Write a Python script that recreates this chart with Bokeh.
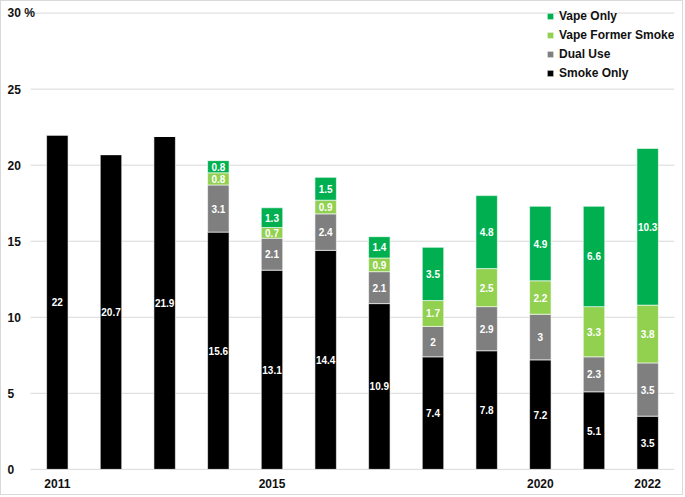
from bokeh.plotting import figure
from bokeh.models import ColumnDataSource, FixedTicker, Legend, LegendItem
from bokeh.core.properties import value
from bokeh.embed import file_html
from bokeh.resources import INLINE

years = [2011, 2012, 2013, 2014, 2015, 2016, 2017, 2018, 2019, 2020, 2021, 2022]
smoke_only = [22, 20.7, 21.9, 15.6, 13.1, 14.4, 10.9, 7.4, 7.8, 7.2, 5.1, 3.5]
dual_use = [0, 0, 0, 3.1, 2.1, 2.4, 2.1, 2.0, 2.9, 3.0, 2.3, 3.5]
vape_former = [0, 0, 0, 0.8, 0.7, 0.9, 0.9, 1.7, 2.5, 2.2, 3.3, 3.8]
vape_only = [0, 0, 0, 0.8, 1.3, 1.5, 1.4, 3.5, 4.8, 4.9, 6.6, 10.3]
x_ticks = [2011, 2015, 2020, 2022]
y_ticks = [0, 5, 10, 15, 20, 25, 30]
y_tick_labels = ["0", "5", "10", "15", "20", "25", "30 %"]

series = ["smoke_only", "dual_use", "vape_former", "vape_only"]
names = ["Smoke Only", "Dual Use", "Vape Former Smoke", "Vape Only"]
colors = ["#000000", "#7f7f7f", "#92d050", "#00b050"]

x_lo = years[0] - 0.5
x_hi = years[-1] + 0.5
pad_units = 29 / 53.67  # room on the left for the value-axis labels

src = ColumnDataSource(dict(year=years, smoke_only=smoke_only, dual_use=dual_use,
                            vape_former=vape_former, vape_only=vape_only))

p = figure(width=683, height=495, x_range=(x_lo - pad_units, x_hi), y_range=(-0.6, 30.5),
           output_backend="svg", toolbar_location=None,
           min_border_left=0, min_border_right=10, min_border_top=4, min_border_bottom=18)
p.styles = {"border": "1px solid #d9d9d9"}
p.outline_line_color = None

# grid lines (drawn from the plot's left edge at the first category)
gsrc = ColumnDataSource(dict(x0=[x_lo] * len(y_ticks), x1=[x_hi] * len(y_ticks),
                             y=y_ticks, lab=y_tick_labels,
                             lx=[x_lo - pad_units] * len(y_ticks)))
p.segment(x0="x0", y0="y", x1="x1", y1="y", source=gsrc, line_color="#d9d9d9", line_width=1)
p.text(x="lx", y="y", text="lab", source=gsrc, x_offset=6, text_align="left",
       text_baseline="middle", text_font=value("Liberation Sans"), text_font_style="bold",
       text_font_size="12px", text_color="#111111")

rs = p.vbar_stack(series, x="year", width=0.4, source=src, color=colors,
                  line_color="white", line_width=0.6)

# value labels
lx, ly, lt = [], [], []
for i, yr in enumerate(years):
    base = 0.0
    for arr in (smoke_only, dual_use, vape_former, vape_only):
        v = arr[i]
        if v > 0:
            lx.append(yr)
            ly.append(base + v / 2)
            lt.append(f"{v:g}")
        base += v
lsrc = ColumnDataSource(dict(x=lx, y=ly, t=lt))
p.text(x="x", y="y", text="t", source=lsrc, text_color="white",
       text_font=value("Liberation Sans"), text_font_style="bold",
       text_font_size="10px", text_align="center", text_baseline="middle")

# axes
p.xaxis.ticker = FixedTicker(ticks=x_ticks)
p.xaxis.major_tick_line_color = None
p.xaxis.major_tick_out = 0
p.xaxis.major_tick_in = 0
p.xaxis.minor_tick_line_color = None
p.xaxis.axis_line_color = None
p.xaxis.major_label_text_font = "Liberation Sans"
p.xaxis.major_label_text_font_style = "bold"
p.xaxis.major_label_text_font_size = "12px"
p.xaxis.major_label_text_color = "#111111"
p.xaxis.major_label_standoff = 0

p.yaxis.visible = False
p.xgrid.grid_line_color = None
p.ygrid.grid_line_color = None

items = [LegendItem(label=names[k], renderers=[rs[k]]) for k in (3, 2, 1, 0)]
legend = Legend(items=items, location=(545, 398), orientation="vertical",
                glyph_width=8, glyph_height=8, label_height=14, spacing=5,
                label_standoff=5, padding=0, margin=0,
                background_fill_alpha=0, border_line_color=None,
                label_text_font="Liberation Sans", label_text_font_style="bold",
                label_text_font_size="12px", label_text_color="#111111")
p.add_layout(legend)

open("out.html", "w").write(file_html(p, INLINE))
